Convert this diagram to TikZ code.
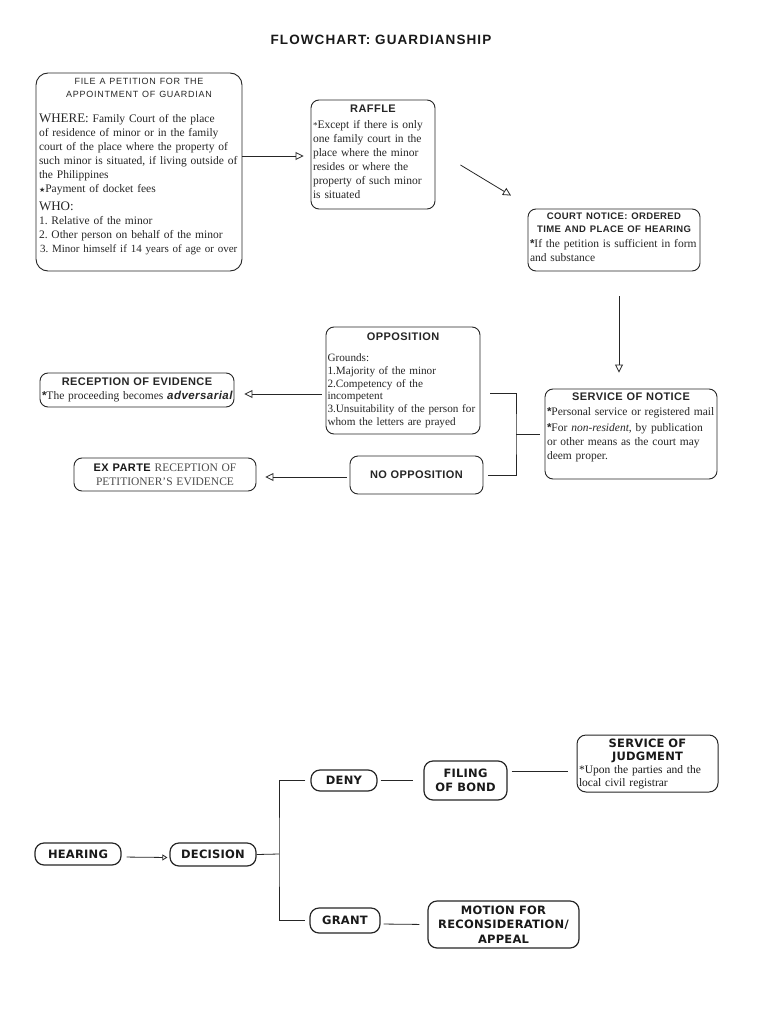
\documentclass[tikz,border=0pt]{standalone}
\usepackage{fontspec}
\setmainfont{Liberation Serif}
\newfontfamily\sansA[LetterSpace=4]{Liberation Sans}
\newfontfamily\sansB[LetterSpace=8]{Liberation Sans}
\newfontfamily\heavyA[LetterSpace=2]{DejaVu Sans}
\newfontfamily\symfont{DejaVu Sans}
\usetikzlibrary{arrows.meta}
\newcommand\myhd{\sansA\bfseries\fontsize{11}{13}\selectfont}
\newcommand\myhdc{\sansA\bfseries\fontsize{9.5}{13}\selectfont}
\newcommand\myhdp{\sansB\fontsize{9}{13}\selectfont}
\newcommand\mybhd{\heavyA\bfseries\fontsize{11.5}{14}\selectfont}
\newcommand\mytitle{\sansB\bfseries\fontsize{13.5}{15}\selectfont}
\newcommand\myast{{\sansA\bfseries *}}
\tikzset{
  box/.style={draw=black!85, line width=0.9pt, rounded corners=8pt, inner sep=2pt,
    align=left, font=\fontsize{11.5}{14}\selectfont, text=black!85},
  bbox/.style={draw=black!85, line width=1.2pt, rounded corners=9pt, inner sep=2pt,
    align=center, font=\mybhd, text=black!90},
  arr/.style={draw=black!85, line width=0.8pt, -{Triangle[open,length=8pt,width=8pt]}},
  sarr/.style={draw=black!85, line width=0.8pt, -{Triangle[open,length=5pt,width=6pt]}},
  ln/.style={draw=black!85, line width=0.8pt},
}
\begin{document}
\frenchspacing
\begin{tikzpicture}[x=1pt,y=-1pt]
\fill[white] (0,0) rectangle (768,1024);
\useasboundingbox (0,0) rectangle (768,1024);

\node[text=black!90] (title) at (381,40) {\mytitle FLOWCHART: GUARDIANSHIP};

\node[box, rounded corners=12pt, inner sep=1pt, text width=204pt, minimum width=206pt, minimum height=198pt] (petition) at (139,172) {%
{\centering\myhdp FILE A PETITION FOR THE\\APPOINTMENT OF GUARDIAN\par}
\vspace{11pt}
\hspace*{2pt}{\fontsize{13}{14}\selectfont WHERE:} Family Court of the place\\
\hspace*{2pt}of residence of minor or in the family\\
\hspace*{2pt}court of the place where the property of\\
\hspace*{2pt}such minor is situated, if living outside of\\
\hspace*{2pt}the Philippines\\
\hspace*{2pt}{\symfont\fontsize{7}{7}\selectfont ★}Payment of docket fees\\[4pt]
\hspace*{2pt}{\fontsize{13}{14}\selectfont WHO:}\\
\hspace*{2pt}1. Relative of the minor\\
\hspace*{2pt}2. Other person on behalf of the minor\\
\mbox{\hspace*{3pt}\fontsize{11}{14}\selectfont 3. Minor himself if 14 years of age or over}\par\vspace{10pt}};

\node[box, text width=120pt, minimum width=124pt, minimum height=109pt] (raffle) at (373,154.5) {%
{\centering\myhd RAFFLE\par}
\vspace{2pt}
{\fontsize{9}{9}\selectfont *}Except if there is only\\
one family court in the\\
place where the minor\\
resides or where the\\
property of such minor\\
is situated\par\vspace{5pt}};

\node[box, text width=168pt, minimum width=172pt, minimum height=62pt] (court) at (614,240) {%
{\centering\myhdc COURT NOTICE: ORDERED\\TIME AND PLACE OF HEARING\par}
\vspace{1pt}
\myast If the petition is sufficient in form\\
and substance\par\vspace{6pt}};

\node[box, text width=168pt, minimum width=172pt, minimum height=90pt] (service) at (631,434) {%
{\centering\myhd SERVICE OF NOTICE\par}
\vspace{1pt}
\myast Personal service or registered mail\\[2pt]
\myast For \textit{non-resident}, by publication\\
or other means as the court may\\
deem proper.\par\vspace{13pt}};

\node[box, text width=151pt, minimum width=154pt, minimum height=107pt, inner sep=1.5pt,
  font=\fontsize{11.2}{12.8}\selectfont] (opp) at (403,380.5) {%
{\centering\myhd OPPOSITION\par}
\vspace{8pt}
Grounds:\\
1.Majority of the minor\\
2.Competency of the\\
incompetent\\
3.Unsuitability of the person for\\
whom the letters are prayed\par\vspace{0pt}};

\node[box, text width=190pt, minimum width=194pt, minimum height=34pt,
  font=\fontsize{11.5}{14}\selectfont] (recep) at (137,390) {%
{\centering\myhd RECEPTION OF EVIDENCE\par}
\myast The proceeding becomes {\sansA\bfseries\itshape adversarial}};

\node[box, align=center, minimum width=133pt, minimum height=38pt, font=\myhd] (noopp) at (416.5,475) {NO OPPOSITION};

\node[box, align=center, text width=178pt, minimum width=182pt, minimum height=33pt,
  text=black!70, font=\fontsize{11.5}{14}\selectfont] (exparte) at (165,474.5) {%
{\myhd\color{black!90}EX PARTE} RECEPTION OF\\PETITIONER'S EVIDENCE};

% connectors top part
\draw[arr] ([yshift=16pt]petition.east) -- ([xshift=-7pt,yshift=-1.5pt]raffle.west);
\draw[arr] ([xshift=25pt,yshift=-10.5pt]raffle.east) -- ([xshift=-103pt,yshift=13pt]court.north);
\draw[arr] ([xshift=5pt,yshift=-25pt]court.south) -- ([xshift=-12pt,yshift=16pt]service.north);
\draw[arr] ([xshift=-4pt,yshift=-13.5pt]opp.west) -- ([xshift=10pt,yshift=-4pt]recep.east);
\draw[arr] ([xshift=-3pt,yshift=-2pt]noopp.west) -- ([xshift=9pt,yshift=-2.5pt]exparte.east);
\coordinate (br) at (516,434);
\draw[ln] ([xshift=10pt,yshift=-12.5pt]opp.east) -| (br) |- ([xshift=5pt]noopp.east);
\draw[ln] (br) -- ([xshift=-5pt]service.west);

% bottom part
\node[bbox, minimum width=86pt, minimum height=22pt] (hearing) at (78,854) {HEARING};
\node[bbox, minimum width=86pt, minimum height=23pt] (decision) at (213,854.5) {DECISION};
\node[bbox, minimum width=66pt, minimum height=21pt] (deny) at (344,780.5) {DENY};
\node[bbox, minimum width=83pt, minimum height=39pt] (filing) at (465.5,780.5) {FILING\\OF BOND};
\node[bbox, line width=1pt, text width=137pt, minimum width=141pt, minimum height=57pt,
  align=left, font=\fontsize{11.5}{13}\selectfont] (sj) at (647.5,763.5) {%
{\centering\mybhd SERVICE OF\\[-1pt]JUDGMENT\par}
*Upon the parties and the\\
local civil registrar};
\node[bbox, minimum width=70pt, minimum height=25pt] (grant) at (345,920.5) {GRANT};
\node[bbox, minimum width=151pt, minimum height=47pt, font=\heavyA\bfseries\fontsize{11.5}{14.5}\selectfont] (motion) at (503.5,924.5) {MOTION FOR\\RECONSIDERATION/\\APPEAL};

\draw[sarr, shorten <=5pt, shorten >=2pt] ([yshift=-3pt]hearing.east) -- ([yshift=-3pt]decision.west);
\coordinate (trunk) at (279,854);
\draw[ln] (decision.east) -- (trunk);
\draw[ln] ([xshift=-5pt]deny.west) -| (trunk) |- ([xshift=-4pt]grant.west);
\draw[ln, shorten <=3pt, shorten >=10pt] (deny.east) -- (filing.west);
\draw[ln, shorten <=4pt, shorten >=9pt] ([yshift=9.5pt]filing.east) -- ([yshift=-7.5pt]sj.west);
\draw[ln, shorten <=3pt, shorten >=8pt] ([yshift=-3.5pt]grant.east) -- (motion.west);
\end{tikzpicture}
\end{document}
